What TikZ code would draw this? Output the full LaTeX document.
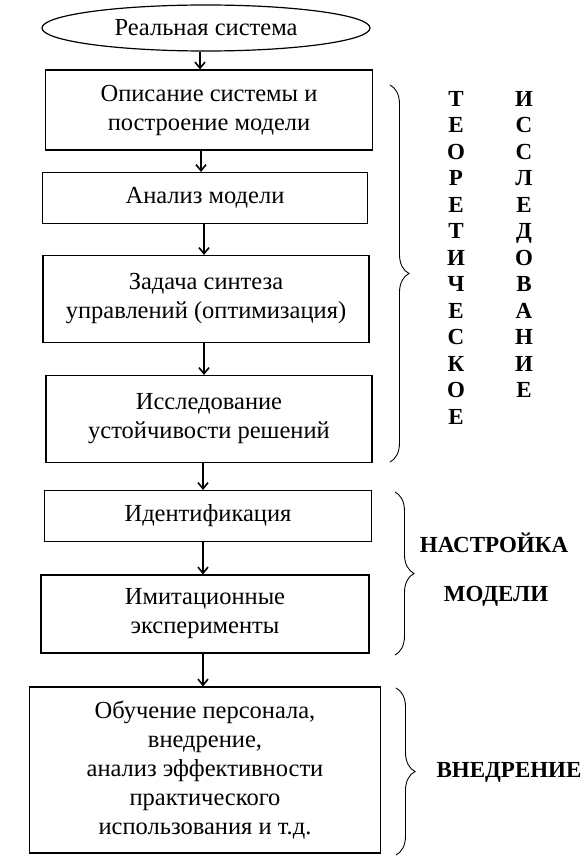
\documentclass[tikz,border=0pt]{standalone}
\usepackage{fontspec}
\setmainfont{Liberation Serif}
\usetikzlibrary{arrows.meta,decorations.pathreplacing,shapes.geometric}

\tikzset{
  stage/.style={draw, line width=1.2pt, align=center, inner sep=0pt,
    font=\fontsize{24.5}{29}\selectfont},
  arr/.style={line width=1.6pt, -{Straight Barb[length=6pt,width=10pt,line width=1.6pt]}},
  curly/.style={decorate, decoration={brace, amplitude=19pt}, line width=0.9pt},
  side/.style={font=\bfseries\fontsize{23}{26.5}\selectfont, align=center, inner sep=0pt}
}

\begin{document}
\begin{tikzpicture}[x=1pt, y=-1pt]
    \useasboundingbox (0,0) rectangle (582,859);
    \node[stage, ellipse, minimum width=328pt, minimum height=46pt] (real) at (206,28) {Реальная система};
    \node[stage, minimum width=327pt, minimum height=80pt] (descr) at (209,110) {Описание системы и\\построение модели};
    \node[stage, minimum width=325pt, minimum height=51pt] (anal) at (205,198) {Анализ модели};
    \node[stage, minimum width=326pt, minimum height=87pt] (synth) at (206,299) {Задача синтеза\\управлений (оптимизация)};
    \node[stage, minimum width=326pt, minimum height=87pt] (stab) at (209,419) {Исследование\\устойчивости решений};
    \node[stage, minimum width=327pt, minimum height=51pt] (ident) at (208,516) {Идентификация};
    \node[stage, minimum width=328pt, minimum height=78pt] (imit) at (205,614) {Имитационные\\эксперименты};
    \node[stage, minimum width=351pt, minimum height=166pt] (train) at (205,770) {Обучение персонала,\\внедрение,\\анализ эффективности\\практического\\использования и т.д.};

    \draw[arr] (real.south -| 200,0) -- (descr.north -| 200,0);
    \draw[arr] (descr.south -| 201,0) -- (anal.north -| 201,0);
    \draw[arr] (anal.south -| 204,0) -- (synth.north -| 204,0);
    \draw[arr] (synth.south -| 204,0) -- (stab.north -| 204,0);
    \draw[arr] (stab.south -| 203,0) -- (ident.north -| 203,0);
    \draw[arr] (ident.south -| 203,0) -- (imit.north -| 203,0);
    \draw[arr] (imit.south -| 203,0) -- (train.north -| 203,0);

    \coordinate (b1top) at (390,85);
    \coordinate (b1bot) at (390,462);
    \coordinate (b2top) at (395,492);
    \coordinate (b2bot) at (395,655);
    \coordinate (b3top) at (396,688);
    \coordinate (b3bot) at (396,855);
    \draw[curly] (b1top) -- (b1bot);
    \draw[curly] (b2top) -- (b2bot);
    \draw[curly] (b3top) -- (b3bot);

    \node[side, anchor=north] (theor) at (456,91)
      {Т\\Е\\О\\Р\\Е\\Т\\И\\Ч\\Е\\С\\К\\О\\Е};
    \node[side, anchor=north] (issl) at (524,91)
      {И\\С\\С\\Л\\Е\\Д\\О\\В\\А\\Н\\И\\Е};
    \node[side] (nastr) at (494,543) {НАСТРОЙКА};
    \node[side] (model) at (496,596) {МОДЕЛИ};
    \node[side] (vnedr) at (509,772) {ВНЕДРЕНИЕ};
\end{tikzpicture}
\end{document}
